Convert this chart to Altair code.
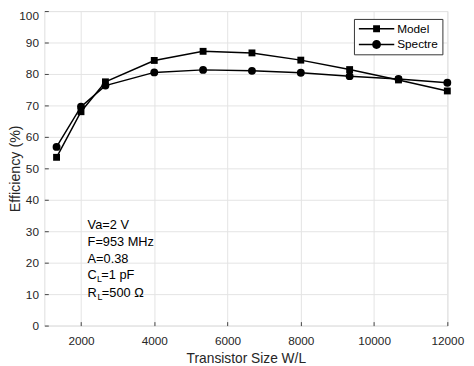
import altair as alt
import pandas as pd

# ---- data ----
sizes = [1333, 2000, 2667, 4000, 5333, 6667, 8000, 9333, 10667, 12000]
model = [53.5, 68.0, 77.5, 84.3, 87.2, 86.7, 84.4, 81.4, 78.1, 74.6]
spectre = [56.8, 69.6, 76.3, 80.5, 81.3, 81.0, 80.4, 79.3, 78.4, 77.2]
series_names = ["Model", "Spectre"]
x_ticks = [2000, 4000, 6000, 8000, 10000, 12000]
y_ticks = [0, 10, 20, 30, 40, 50, 60, 70, 80, 90, 100]

df = pd.DataFrame({
    "size": sizes + sizes,
    "eff": model + spectre,
    "series": [series_names[0]] * len(sizes) + [series_names[1]] * len(sizes),
})

W, H = 410, 320
FONT = "Liberation Sans"
LBL = "#262626"

xscale = alt.Scale(domain=[1000, 12000], nice=False, zero=False)
yscale = alt.Scale(domain=[0, 100], nice=False)

x_main = alt.X("size:Q", scale=xscale, axis=alt.Axis(
    orient="bottom", values=x_ticks, title="Transistor Size W/L", grid=True,
    gridColor="#e3e3e3", ticks=False, domain=False, labelPadding=10,
    labelFontSize=12, labelColor=LBL, labelFont=FONT, titleFont=FONT,
    titleFontSize=14, titleFontWeight="normal", titleColor=LBL, titlePadding=6,
    format="d", labelFlush=False))
y_main = alt.Y("eff:Q", scale=yscale, axis=alt.Axis(
    orient="left", values=y_ticks, title="Efficiency (%)", grid=True,
    gridColor="#e3e3e3", ticks=False, domain=False, labelPadding=6,
    labelFontSize=12, labelColor=LBL, labelFont=FONT, titleFont=FONT,
    titleFontSize=14.5, titleFontWeight="normal", titleColor=LBL,
    titleX=-22.5, titleY=H / 2, labelFlush=False,
    labelBaseline=alt.condition(alt.datum.value == 100, alt.value("top"),
                                alt.value("middle"))))

base = alt.Chart(df)

lines = base.mark_line(color="black", strokeWidth=1.5).encode(
    x=x_main, y=y_main, detail="series:N")

xn = alt.X("size:Q", axis=None)
yn = alt.Y("eff:Q", axis=None)

pts_model = base.transform_filter(alt.datum.series == series_names[0]).mark_point(
    shape="square", filled=True, color="black", size=49, opacity=1).encode(x=xn, y=yn)
pts_spectre = base.transform_filter(alt.datum.series == series_names[1]).mark_point(
    shape="circle", filled=True, color="black", size=64, opacity=1).encode(x=xn, y=yn)

# inward ticks (MATLAB style) via axes moved across the plot
ticks_layer = base.mark_point(opacity=0).encode(
    x=alt.X("size:Q", axis=alt.Axis(orient="top", offset=-H, values=x_ticks,
                                     labels=False, domain=False, grid=False,
                                     ticks=True, tickSize=4, tickColor="#444",
                                     title=None)),
    y=alt.Y("eff:Q", axis=alt.Axis(orient="right", offset=-W, values=y_ticks,
                                    labels=False, domain=False, grid=False,
                                    ticks=True, tickSize=4, tickColor="#444",
                                    title=None)),
)

# legend symbols: a line segment plus the marker, drawn as filled paths
# (unit = 5 px for symbolSize 100)
path_model = "M-1,-0.15H6.2V0.15H-1ZM1.9,-0.7H3.3V0.7H1.9Z"
path_spectre = ("M-1,-0.15H6.2V0.15H-1ZM3.5,0A0.9,0.9,0,1,1,1.7,0"
                "A0.9,0.9,0,1,1,3.5,0Z")

legend_layer = base.mark_point(filled=True, opacity=0, color="black").encode(
    x=xn, y=yn,
    shape=alt.Shape("series:N", scale=alt.Scale(domain=series_names,
                                                 range=[path_model, path_spectre]),
                    legend=alt.Legend(
                        title=None, orient="none", legendX=315, legendY=8,
                        fillColor="white", strokeColor="#333", padding=4,
                        labelFontSize=12, labelFont=FONT, labelColor="black",
                        symbolSize=100, symbolOpacity=1,
                        symbolFillColor="black", symbolStrokeColor="black",
                        symbolStrokeWidth=0, rowPadding=4, labelOffset=28)),
)

def txt(s, x, y, size=13):
    return alt.Chart(pd.DataFrame({"t": [s]})).mark_text(
        align="left", baseline="middle", font=FONT, fontSize=size,
        color="black").encode(text="t:N", x=alt.value(x), y=alt.value(y))

ann = [
    txt("Va=2 V", 44, 218),
    txt("F=953 MHz", 44, 235),
    txt("A=0.38", 44, 252),
    txt("C", 44, 269), txt("L", 53.5, 273, 9), txt("=1 pF", 58, 269),
    txt("R", 44, 287), txt("L", 54, 291, 9), txt("=500 Ω", 58.5, 287),
]

chart = alt.layer(lines, pts_model, pts_spectre, ticks_layer, legend_layer, *ann).properties(
    width=W, height=H,
    autosize=alt.AutoSizeParams(type="none"),
    padding={"left": 37, "top": 0, "right": 19, "bottom": 38},
).configure_view(stroke="#444", strokeWidth=1).configure(background="white")

chart.save("out.html", embed_options={"renderer": "svg", "actions": False})
